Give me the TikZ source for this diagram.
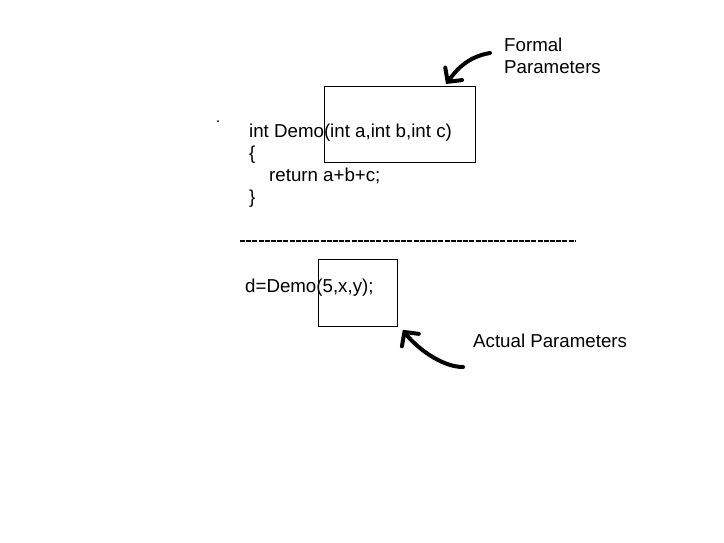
\documentclass[tikz,border=0pt]{standalone}
\usepackage{fontspec}
\setmainfont{Liberation Sans}
\usetikzlibrary{positioning,arrows.meta,calc}

\begin{document}
\begin{tikzpicture}[x=1pt,y=-1pt,
  code/.style={anchor=base west, inner sep=0pt, font=\fontsize{18.7}{22}\selectfont},
  parbox/.style={draw, line width=0.8pt, inner sep=0pt, anchor=north west},
  hand/.style={line width=4pt, line cap=round, line join=round,
    -{Straight Barb[length=10pt, width=21pt, line cap=round]}},
  divider/.style={line width=1.4pt, dash pattern=on 5pt off 1.2pt}]

  % Page
  \fill[white] (0,0) rectangle (724,542);
  \useasboundingbox (0,0) rectangle (724,542);
  \fill (218,121) circle (1pt);

  % Function definition
  \node[code] (sig) at (249,137) {int Demo(int a,int b,int c)};
  \node[code, below=22pt of sig.base west, anchor=base west] (open) {\{};
  \node[code, below=44pt of sig.base west, anchor=base west, xshift=20pt] (ret) {return a+b+c;};
  \node[code, below=66pt of sig.base west, anchor=base west] (close) {\}};
  \node[parbox, minimum width=151pt, minimum height=76pt] (formalbox) at (324,86) {};

  % Separator
  \draw[divider] (240,241) -- (575,241);

  % Function call
  \node[code] (call) at (245,292) {d=Demo(5,x,y);};
  \node[parbox, minimum width=79pt, minimum height=67pt] (actualbox) at (318,259) {};

  % Labels
  \node[code] (formal) at (504,51) {Formal};
  \node[code, below=22pt of formal.base west, anchor=base west] (formalpar) {Parameters};
  \node[code] (actual) at (473,347) {Actual Parameters};

  % Arrows
  \coordinate (formaltail) at (490,53);
  \coordinate (formaltip) at ($(formalbox.north west)+(122,-2)$);
  \coordinate (actualtail) at (463,367);
  \coordinate (actualtip) at ($(actualbox.south east)+(5,3)$);
  \draw[hand] (formaltail) .. controls (466,57) and (455,72) .. (formaltip);
  \draw[hand] (actualtail) .. controls (440,367) and (414,345) .. (actualtip);

\end{tikzpicture}
\end{document}
